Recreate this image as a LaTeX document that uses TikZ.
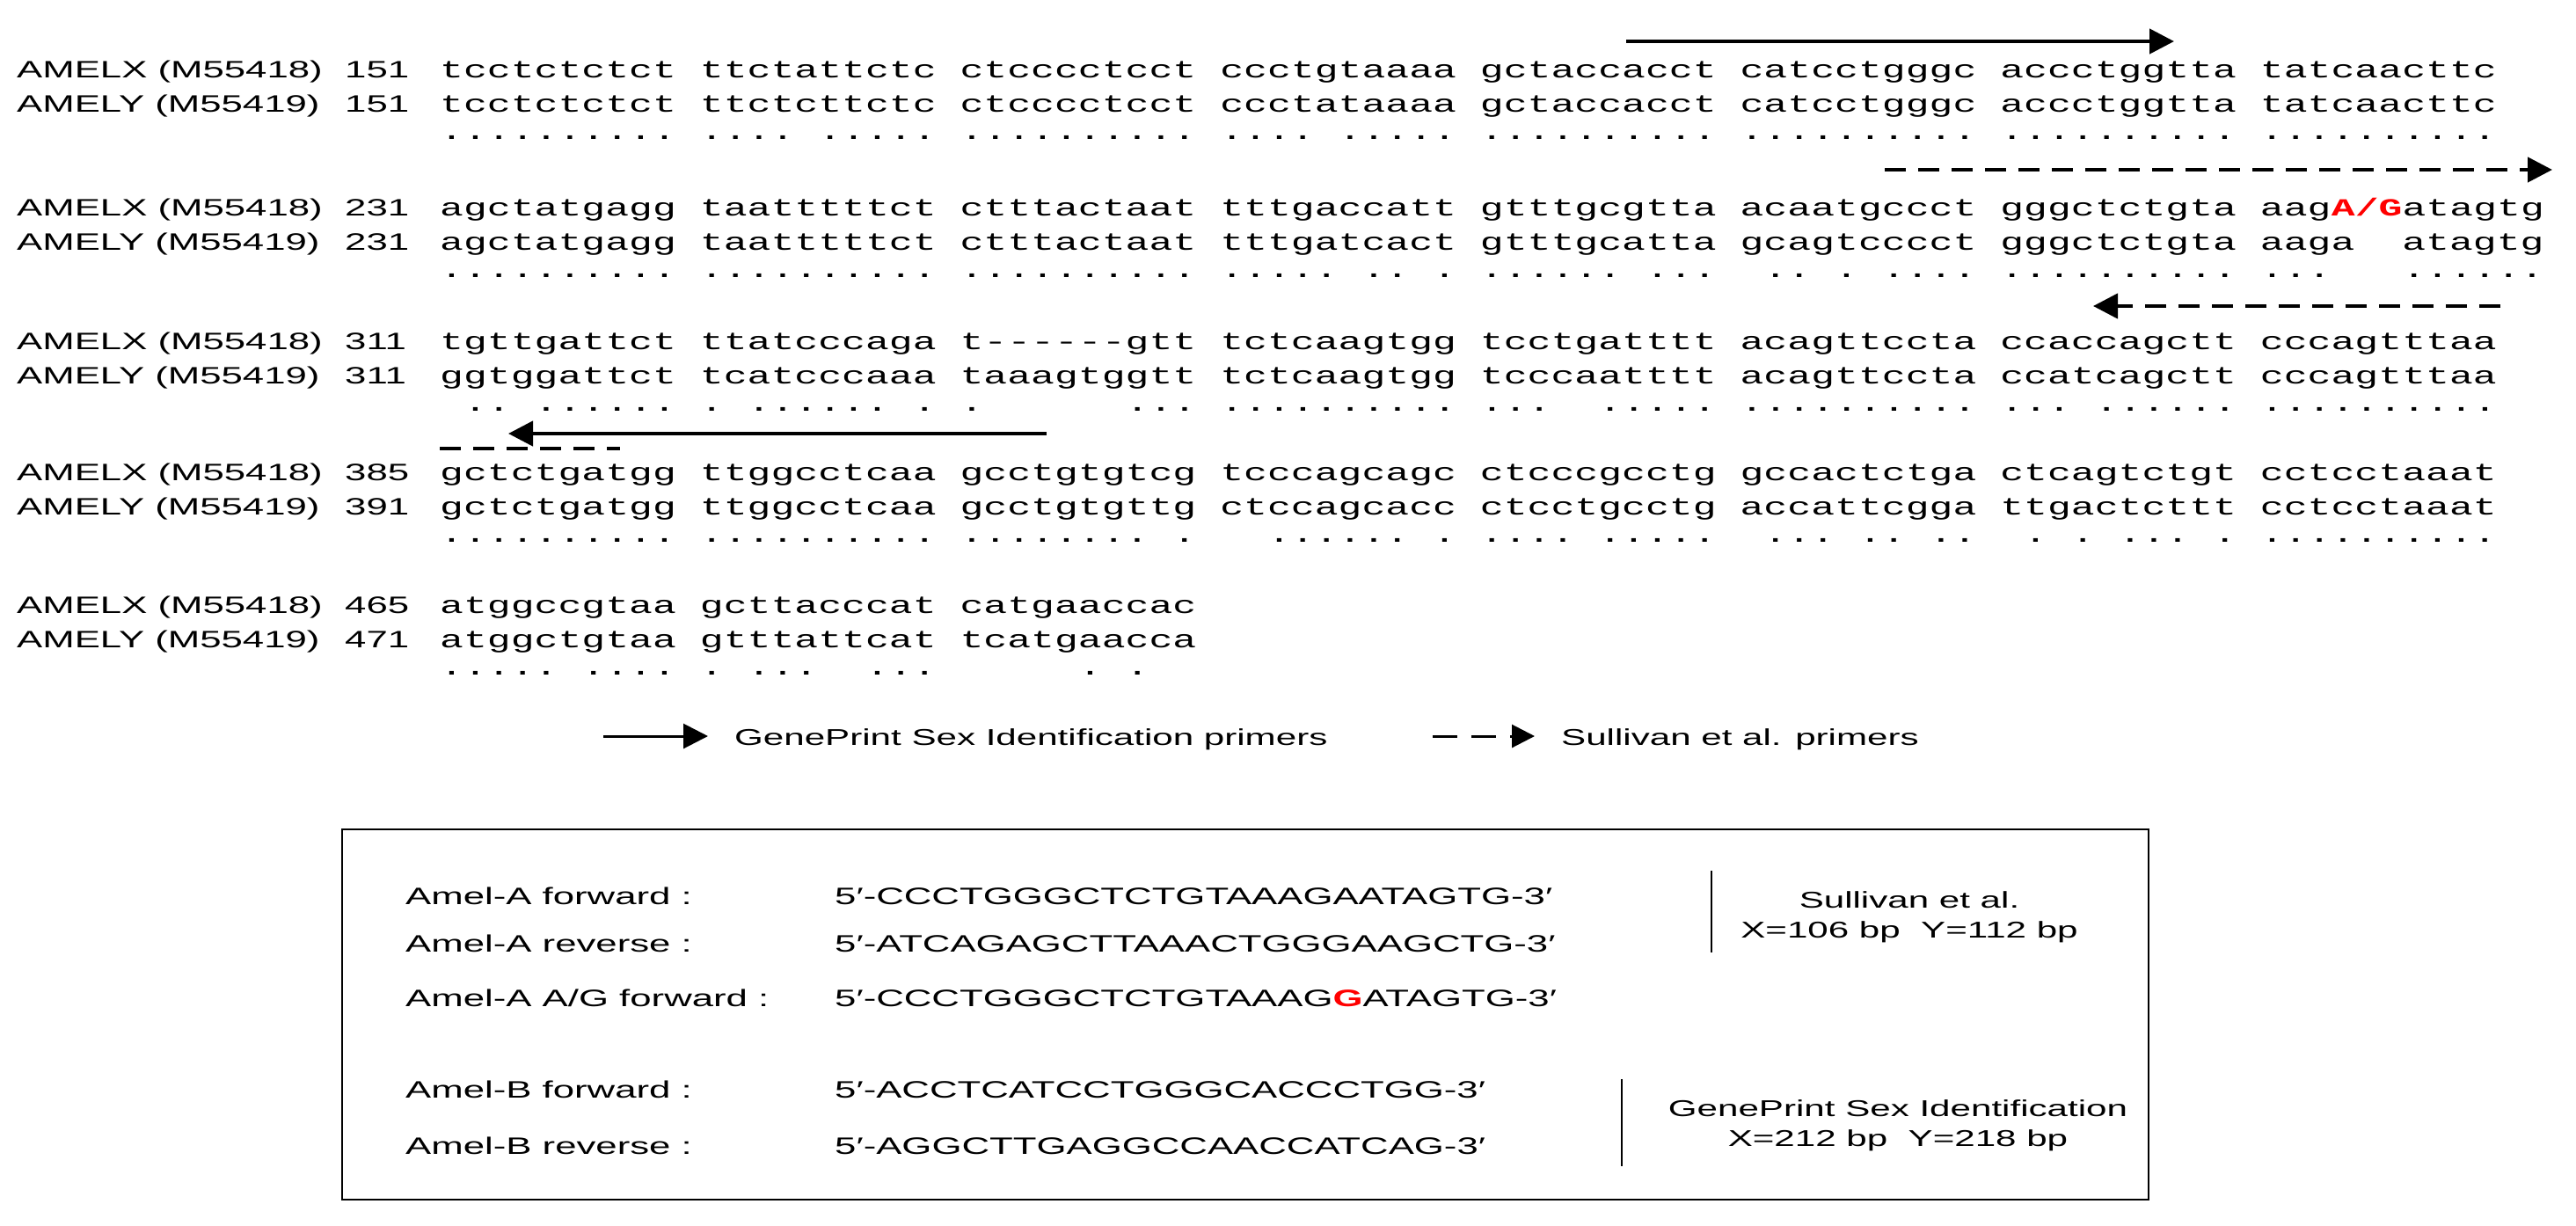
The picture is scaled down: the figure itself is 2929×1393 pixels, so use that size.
\documentclass[tikz,border=0pt]{standalone}
\usepackage{fontspec}
\usepackage{xcolor}
\usetikzlibrary{arrows.meta}
\newfontfamily\labfont[FakeStretch=1.62]{Liberation Sans}
\newfontfamily\seqfont[FakeStretch=1.6]{Liberation Mono}
\newfontfamily\boxfont[FakeStretch=1.62]{Liberation Sans}
\newcommand\gp{\phantom{.}}
\tikzset{
  lab/.style={anchor=base west,inner sep=0pt,font=\labfont\fontsize{27}{30}\selectfont},
  seq/.style={anchor=base west,inner sep=0pt,font=\seqfont\fontsize{28}{30}\selectfont},
  btxt/.style={anchor=base west,inner sep=0pt,font=\boxfont\fontsize{27}{30}\selectfont},
  bctr/.style={anchor=base,inner sep=0pt,font=\boxfont\fontsize{26}{30}\selectfont},
  leg/.style={anchor=base west,inner sep=0pt,font=\boxfont\fontsize{26}{28}\selectfont},
  solidarr/.style={line width=4.5pt,-{Triangle[length=28pt,width=28pt]}},
  dasharr/.style={line width=4.5pt,dash pattern=on 24pt off 14pt,-{Triangle[length=28pt,width=28pt]}},
  dashline/.style={line width=4.5pt,dash pattern=on 24pt off 14pt},
  vline/.style={line width=2.5pt}
}
\newcommand\grp[7]{% y, name, numX, numY, X, Y, dots
  \node[lab] (#2lx) at (19,#1) {AMELX (M55418)};
  \node[lab] (#2nx) at (392,#1) {#3};
  \node[seq] (#2sx) at (500,#1) {#5};
  \node[lab] (#2ly) at (19,#1+39) {AMELY (M55419)};
  \node[lab] (#2ny) at (392,#1+39) {#4};
  \node[seq] (#2sy) at (500,#1+39) {#6};
  \node[seq] (#2d) at (500,#1+70) {#7};
}
\begin{document}
\begin{tikzpicture}[x=1pt,y=-1pt]
\useasboundingbox[fill=white] (0,0) rectangle (2929,1393);
\grp{88}{a}{151}{151}
{tcctctctct ttctattctc ctcccctcct ccctgtaaaa gctaccacct catcctgggc accctggtta tatcaacttc}
{tcctctctct ttctcttctc ctcccctcct ccctataaaa gctaccacct catcctgggc accctggtta tatcaacttc}
{..........\gp....\gp.....\gp..........\gp....\gp.....\gp..........\gp..........\gp..........\gp..........}
\grp{245}{b}{231}{231}
{agctatgagg taatttttct ctttactaat tttgaccatt gtttgcgtta acaatgccct gggctctgta aag{\bfseries\color{red}A/G}atagtg}
{agctatgagg taatttttct ctttactaat tttgatcact gtttgcatta gcagtcccct gggctctgta aaga\gp\gp atagtg}
{..........\gp..........\gp..........\gp.....\gp..\gp.\gp......\gp...\gp\gp..\gp.\gp....\gp..........\gp...\gp\gp\gp......}
\grp{397}{c}{311}{311}
{tgttgattct ttatcccaga t------gtt tctcaagtgg tcctgatttt acagttccta ccaccagctt cccagtttaa}
{ggtggattct tcatcccaaa taaagtggtt tctcaagtgg tcccaatttt acagttccta ccatcagctt cccagtttaa}
{\gp..\gp......\gp.\gp......\gp.\gp.\gp\gp\gp\gp\gp\gp...\gp..........\gp...\gp\gp.....\gp..........\gp...\gp......\gp..........}
\grp{546}{d}{385}{391}
{gctctgatgg ttggcctcaa gcctgtgtcg tcccagcagc ctcccgcctg gccactctga ctcagtctgt cctcctaaat}
{gctctgatgg ttggcctcaa gcctgtgttg ctccagcacc ctcctgcctg accattcgga ttgactcttt cctcctaaat}
{..........\gp..........\gp........\gp.\gp\gp\gp......\gp.\gp....\gp.....\gp\gp...\gp..\gp..\gp\gp.\gp.\gp...\gp.\gp..........}
\grp{697}{e}{465}{471}
{atggccgtaa gcttacccat catgaaccac}
{atggctgtaa gtttattcat tcatgaacca}
{.....\gp....\gp.\gp...\gp\gp...\gp\gp\gp\gp\gp\gp.\gp.\gp\gp}
% primer arrows
\coordinate (s1a) at (1849,47); \coordinate (s1b) at (2472,47);
\draw[solidarr] (s1a) -- (s1b);
\coordinate (d1a) at (2143,193); \coordinate (d1b) at (2902,193);
\draw[dasharr] (d1a) -- (d1b);
\coordinate (d2a) at (2843,348); \coordinate (d2b) at (2380,348);
\draw[dasharr] (d2a) -- (d2b);
\coordinate (d3a) at (500,510); \coordinate (d3b) at (705,510);
\draw[dashline] (d3a) -- (d3b);
\coordinate (s2a) at (1190,493); \coordinate (s2b) at (578,493);
\draw[solidarr] (s2a) -- (s2b);
% legend
\coordinate (l1a) at (686,837); \coordinate (l1b) at (805,837);
\draw[solidarr,line width=3pt] (l1a) -- (l1b);
\node[leg] (l1t) at (835,847) {GenePrint Sex Identification primers};
\coordinate (l2a) at (1629,837); \coordinate (l2b) at (1745,837);
\draw[line width=3pt,dash pattern=on 28pt off 16pt,-{Triangle[length=26pt,width=26pt]}] (l2a) -- (l2b);
\node[leg] (l2t) at (1775,847) {Sullivan et al. primers};
% box
\draw[line width=2pt] (389,943) rectangle (2443,1364);
\node[btxt] (r1) at (461,1028) {Amel-A forward :};
\node[btxt] (r2) at (461,1082) {Amel-A reverse :};
\node[btxt] (r3) at (461,1144) {Amel-A A/G forward :};
\node[btxt] (r4) at (461,1248) {Amel-B forward :};
\node[btxt] (r5) at (461,1312) {Amel-B reverse :};
\node[btxt] (q1) at (949,1028) {5′-CCCTGGGCTCTGTAAAGAATAGTG-3′};
\node[btxt] (q2) at (949,1082) {5′-ATCAGAGCTTAAACTGGGAAGCTG-3′};
\node[btxt] (q3) at (949,1144) {5′-CCCTGGGCTCTGTAAAG{\bfseries\color{red}G}ATAGTG-3′};
\node[btxt] (q4) at (949,1248) {5′-ACCTCATCCTGGGCACCCTGG-3′};
\node[btxt] (q5) at (949,1312) {5′-AGGCTTGAGGCCAACCATCAG-3′};
\coordinate (v1a) at (1946,990); \coordinate (v1b) at (1946,1083);
\draw[vline] (v1a) -- (v1b);
\node[bctr] (t1) at (2171,1032) {Sullivan et al.};
\node[bctr] (t2) at (2171,1066) {X=106 bp\ \ Y=112 bp};
\coordinate (v2a) at (1844,1227); \coordinate (v2b) at (1844,1326);
\draw[vline] (v2a) -- (v2b);
\node[bctr] (t3) at (2158,1269) {GenePrint Sex Identification};
\node[bctr] (t4) at (2158,1303) {X=212 bp\ \ Y=218 bp};
\end{tikzpicture}
\end{document}
